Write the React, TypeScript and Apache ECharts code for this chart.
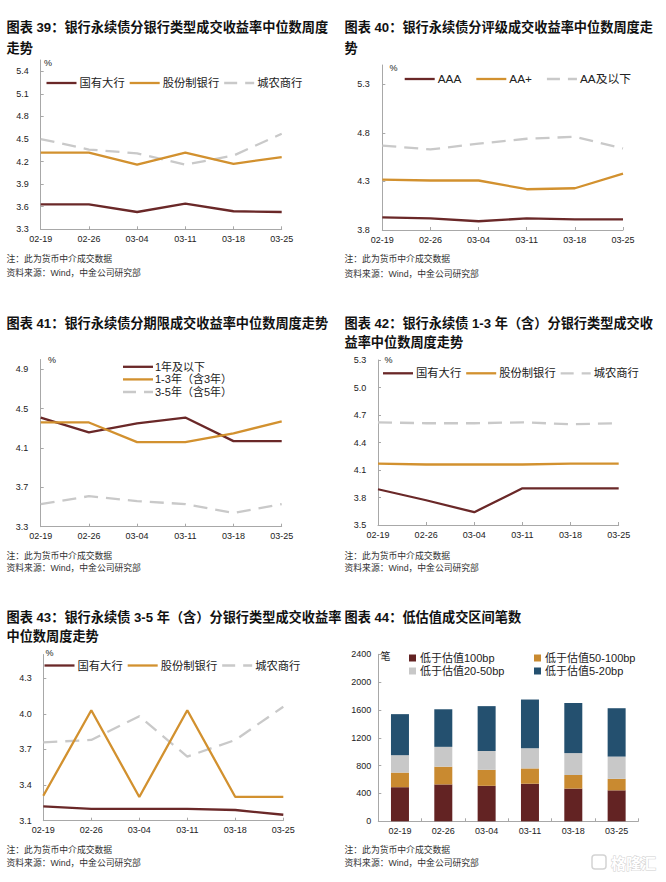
import React, { useEffect, useRef } from "react";
import * as echarts from "echarts";

const dates = ["02-19", "02-26", "03-04", "03-11", "03-18", "03-25"];

// 图表39
const c39Big = [3.63, 3.63, 3.53, 3.64, 3.54, 3.53];
const c39Joint = [4.32, 4.32, 4.16, 4.32, 4.17, 4.26];
const c39Rural = [4.5, 4.36, 4.31, 4.16, 4.28, 4.57];
// 图表40
const c40AAA = [3.93, 3.92, 3.89, 3.92, 3.91, 3.91];
const c40AAp = [4.32, 4.31, 4.31, 4.22, 4.23, 4.38];
const c40AA = [4.67, 4.63, 4.69, 4.74, 4.76, 4.64];
// 图表41
const c41Y1 = [4.41, 4.26, 4.35, 4.41, 4.17, 4.17];
const c41Y13 = [4.36, 4.36, 4.16, 4.16, 4.25, 4.37];
const c41Y35 = [3.53, 3.61, 3.56, 3.53, 3.44, 3.53];
// 图表42
const c42Big = [3.89, 3.77, 3.64, 3.9, 3.9, 3.9];
const c42Joint = [4.17, 4.16, 4.16, 4.16, 4.17, 4.17];
const c42Rural = [4.62, 4.61, 4.61, 4.62, 4.6, 4.61];
// 图表43
const c43Big = [3.22, 3.2, 3.2, 3.2, 3.19, 3.15];
const c43Joint = [3.31, 4.03, 3.3, 4.03, 3.3, 3.3];
const c43Rural = [3.76, 3.78, 3.98, 3.64, 3.78, 4.06];
// 图表44
const b100 = [490, 530, 510, 540, 470, 445];
const b50 = [210, 255, 230, 220, 195, 165];
const b20 = [250, 285, 270, 290, 315, 320];
const b5 = [590, 540, 645, 700, 720, 695];

const FONT = "Liberation Sans, Noto Sans CJK SC, sans-serif";
const CJK = "Noto Sans CJK SC, sans-serif";
const RED = "#6a2828";
const ORANGE = "#d2912f";
const GRAY = "#c9c9c9";
const BAR_RED = "#632323";
const BAR_ORANGE = "#c98a30";
const BAR_GRAY = "#c8c8c8";
const BAR_BLUE = "#24506f";
const AXIS = "#a8a8a8";

const SOLID_ICON = "path://M0,0H30V2H0Z";
const DASH_ICON = "path://M0,0H13V2H0Z M21,0H30V2H21Z";

export default function App() {
  const ref = useRef<HTMLDivElement>(null);
  useEffect(() => {
    if (!ref.current) return;
    const chart = echarts.init(ref.current, null, { renderer: "svg" });

    const grids = [
      { left: 40.7, top: 60, width: 241, height: 169.3 },
      { left: 382.3, top: 65, width: 240.7, height: 165 },
      { left: 40.7, top: 359.5, width: 241, height: 167.2 },
      { left: 378, top: 360, width: 240.7, height: 165 },
      { left: 43.3, top: 654.5, width: 240, height: 166.2 },
      { left: 378.3, top: 654.3, width: 260, height: 167 },
    ];

    const yCfg = [
      { min: 3.3, max: 5.55, interval: 0.3, hideMax: true, margin: 12 },
      { min: 3.8, max: 5.5, interval: 0.5, hideMax: true, margin: 12.5 },
      { min: 3.3, max: 5.0, interval: 0.4, hideMax: true, margin: 12.4 },
      { min: 3.5, max: 5.3, interval: 0.3, hideMax: false, margin: 11.7 },
      { min: 3.1, max: 4.5, interval: 0.3, hideMax: true, margin: 11.6 },
      { min: 0, max: 2400, interval: 400, hideMax: false, margin: 7 },
    ];

    const xAxis = grids.map((_, i) => ({
      type: "category",
      gridIndex: i,
      data: dates,
      boundaryGap: i === 5,
      axisLine: { lineStyle: { color: AXIS, width: 1 } },
      axisTick: { show: true, inside: true, length: 3, lineStyle: { color: AXIS } },
      axisLabel: { fontSize: 9, color: "#222", margin: 5, fontFamily: FONT, interval: 0 },
      splitLine: { show: false },
    }));

    const yAxis = yCfg.map((c, i) => ({
      type: "value",
      gridIndex: i,
      min: c.min,
      max: c.max,
      interval: c.interval,
      axisLine: { show: true, lineStyle: { color: AXIS, width: 1 } },
      axisTick: { show: true, inside: true, length: 3, lineStyle: { color: AXIS } },
      splitLine: { show: false },
      axisLabel: {
        fontSize: 9,
        color: "#222",
        margin: c.margin,
        fontFamily: FONT,
        showMaxLabel: !c.hideMax,
        formatter: (v: number) => (i === 5 ? String(Math.round(v)) : v.toFixed(1)),
      },
    }));

    const line = (name: string, data: number[], idx: number, color: string, dashed = false) => ({
      type: "line",
      name,
      data,
      xAxisIndex: idx,
      yAxisIndex: idx,
      symbol: "none",
      showSymbol: false,
      smooth: false,
      lineStyle: { color, width: 2.3, type: dashed ? [14, 8] : "solid" },
      itemStyle: { color },
      z: dashed ? 2 : 3,
    });

    const bar = (name: string, data: number[], color: string) => ({
      type: "bar",
      name,
      data,
      xAxisIndex: 5,
      yAxisIndex: 5,
      stack: "cnt",
      barWidth: 18,
      itemStyle: { color },
    });

    const series = [
      line("国有大行", c39Big, 0, RED),
      line("股份制银行", c39Joint, 0, ORANGE),
      line("城农商行", c39Rural, 0, GRAY, true),
      line("AAA", c40AAA, 1, RED),
      line("AA+", c40AAp, 1, ORANGE),
      line("AA及以下", c40AA, 1, GRAY, true),
      line("1年及以下", c41Y1, 2, RED),
      line("1-3年（含3年）", c41Y13, 2, ORANGE),
      line("3-5年（含5年）", c41Y35, 2, GRAY, true),
      line("国有大行", c42Big, 3, RED),
      line("股份制银行", c42Joint, 3, ORANGE),
      line("城农商行", c42Rural, 3, GRAY, true),
      line("国有大行", c43Big, 4, RED),
      line("股份制银行", c43Joint, 4, ORANGE),
      line("城农商行", c43Rural, 4, GRAY, true),
      bar("低于估值100bp", b100, BAR_RED),
      bar("低于估值50-100bp", b50, BAR_ORANGE),
      bar("低于估值20-50bp", b20, BAR_GRAY),
      bar("低于估值5-20bp", b5, BAR_BLUE),
    ];

    const items = (names: string[]) =>
      names.map((n, k) => ({ name: n, icon: k === 2 ? DASH_ICON : SOLID_ICON }));

    const lineLegend = (data: string[], left: number, cy: number, gap: number, fs = 11.3) => ({
      data: items(data),
      left,
      top: cy - 7,
      itemWidth: 30,
      itemHeight: 2.3,
      itemGap: gap,
      symbolKeepAspect: false,
      selectedMode: false,
      itemStyle: { borderWidth: 0 },
      textStyle: { fontSize: fs, color: "#222", fontFamily: FONT, lineHeight: 14, padding: [0, 0, 0, -2] },
    });

    const barLegend = (name: string, left: number, cy: number) => ({
      data: [name],
      left,
      top: cy - 7,
      icon: "rect",
      itemWidth: 7,
      itemHeight: 7,
      selectedMode: false,
      textStyle: { fontSize: 11, color: "#222", fontFamily: FONT, lineHeight: 14, padding: [0, 0, 0, -1] },
    });

    const legend = [
      lineLegend(["国有大行", "股份制银行", "城农商行"], 41.5, 78, 5),
      lineLegend(["AAA", "AA+", "AA及以下"], 399.7, 74, 15, 11.8),
      {
        data: items(["1年及以下", "1-3年（含3年）", "3-5年（含5年）"]),
        orient: "vertical",
        left: 118,
        top: 355.5,
        itemWidth: 30,
        itemHeight: 2.3,
        itemGap: 0,
        symbolKeepAspect: false,
        selectedMode: false,
        itemStyle: { borderWidth: 0 },
        textStyle: { fontSize: 11, color: "#222", fontFamily: FONT, lineHeight: 12.6, padding: [0, 0, 0, -3] },
      },
      lineLegend(["国有大行", "股份制银行", "城农商行"], 378, 368.3, 5),
      lineLegend(["国有大行", "股份制银行", "城农商行"], 39.5, 660.5, 5),
      barLegend("低于估值100bp", 404, 653),
      barLegend("低于估值50-100bp", 529, 653),
      barLegend("低于估值20-50bp", 404, 666),
      barLegend("低于估值5-20bp", 529, 666),
    ];

    const txt = (text: string, x: number, y: number, opts: any = {}) => ({
      type: "text",
      x,
      y,
      silent: true,
      style: {
        text,
        fill: opts.fill || "#222",
        fontSize: opts.fontSize || 9,
        fontWeight: opts.fontWeight || "normal",
        fontFamily: opts.fontFamily || CJK,
        lineHeight: opts.lineHeight,
        textVerticalAlign: "middle",
        verticalAlign: "middle",
        stroke: opts.stroke,
        lineWidth: opts.lineWidth,
      },
      z: 10,
    });

    const title = (text: string, x: number, y: number) =>
      txt(text, x, y, { fontSize: 13.2, fontWeight: "bold", fill: "#111", fontFamily: FONT });

    const note = (x: number, y1: number, y2: number) => [
      txt("注：此为货币中介成交数据", x, y1, { fontSize: 8.8, fill: "#333" }),
      txt("资料来源：Wind，中金公司研究部", x, y2, { fontSize: 8.8, fill: "#333", fontFamily: FONT }),
    ];

    const unit = (t: string, x: number, y: number) =>
      txt(t, x, y, { fontSize: 9, fontFamily: FONT, fill: "#222" });

    const graphic = [
      title("图表 39：银行永续债分银行类型成交收益率中位数周度", 6.5, 27),
      title("走势", 6.5, 48),
      title("图表 40：银行永续债分评级成交收益率中位数周度走", 344.5, 27),
      title("势", 344.5, 48.3),
      title("图表 41：银行永续债分期限成交收益率中位数周度走势", 6.5, 323.3),
      title("图表 42：银行永续债 1-3 年（含）分银行类型成交收", 344.5, 323.3),
      title("益率中位数周度走势", 344.5, 342.3),
      title("图表 43：银行永续债 3-5 年（含）分银行类型成交收益率", 6.5, 617.3),
      title("中位数周度走势", 6.5, 636.7),
      title("图表 44：低估值成交区间笔数", 344.5, 617.3),
      unit("%", 44, 63),
      unit("%", 389.5, 68.3),
      unit("%", 48, 359.5),
      unit("%", 384.5, 359.5),
      unit("%", 45.5, 652.7),
      txt("笔", 380.5, 655.5, { fontSize: 10, fill: "#222" }),
      ...note(6.5, 258, 273),
      ...note(344.5, 258, 274),
      ...note(6.5, 555, 568),
      ...note(344.5, 555, 568),
      ...note(6.5, 849, 862.7),
      ...note(344.5, 849, 862.7),
      {
        type: "rect",
        silent: true,
        shape: { x: 592, y: 855, width: 14, height: 14, r: 3 },
        style: { fill: "none", stroke: "#d4d4d4", lineWidth: 1.5 },
        z: 10,
      },
      txt("格隆汇", 611, 862.5, { fontSize: 15, fill: "#ffffff", stroke: "#cfcfcf", lineWidth: 1, fontWeight: "bold" }),
    ];

    chart.setOption({
      animation: false,
      backgroundColor: "#ffffff",
      textStyle: { fontFamily: FONT },
      grid: grids.map((g) => ({ ...g, containLabel: false })),
      xAxis,
      yAxis,
      legend,
      series,
      graphic,
    });

    return () => chart.dispose();
  }, []);

  return (
    <div
      ref={ref}
      style={{ position: "fixed", left: 0, top: 0, width: 666, height: 882, background: "#fff" }}
    />
  );
}
